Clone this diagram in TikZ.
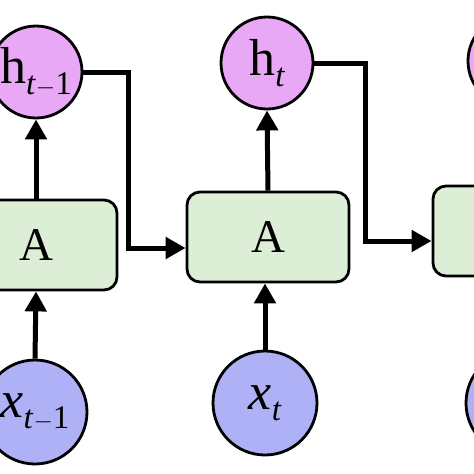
\documentclass[tikz,border=0pt]{standalone}
\usepackage{fontspec}
\setmainfont{Liberation Serif}
\usepackage{xcolor}
\usetikzlibrary{calc, arrows.meta}
\definecolor{hpink}{HTML}{E8A8F6}
\definecolor{xblue}{HTML}{AEB1F6}
\definecolor{agreen}{HTML}{DCEED5}
\newcommand{\subidx}[1]{{\fontsize{33}{33}\selectfont\raisebox{-11pt}{#1}}}
\tikzset{
  rnnnode/.style = {align=center, inner sep=0pt, text centered,
    draw=black, line width=2.8pt},
  rnn_h/.style = {rnnnode, circle, fill=hpink,
    minimum size=92pt, font=\fontsize{52}{52}\selectfont},% etat cache
  rnn_x/.style = {rnnnode, circle, fill=xblue,
    minimum size=104pt, font=\fontsize{52}{52}\selectfont},% entree
  rnn_a/.style = {rnnnode, rectangle, rounded corners=13pt, fill=agreen,
    minimum width=162pt, minimum height=90pt,
    font=\fontsize{47}{47}\selectfont},% cellule A
  conn/.style = {line width=5pt, -{Triangle[length=20pt,width=21pt]}}
}
\begin{document}
\begin{tikzpicture}[x=1pt, y=-1pt]
\useasboundingbox (0,0) rectangle (474,474);

\node[rnn_a] (a1) at (36,245) {A};
\node[rnn_a] (a2) at (268,237) {A};
\node[rnn_a] (a3) at (514,231) {};

\node[rnn_h] (h1) at (36,72) {h\subidx{\itshape t\/$-$\upshape 1}};
\node[rnn_h] (h2) at (267,63) {h\subidx{\itshape t}};
\node[rnn_h] (h3) at (514,61) {};

\node[rnn_x] (x1) at (35,412) {\itshape x\subidx{\itshape t\/$-$\upshape 1}};
\node[rnn_x] (x2) at (265,403) {\itshape x\subidx{\itshape t}};
\node[rnn_x] (x3) at (518,403) {};

\coordinate (k1) at (128,248);
\coordinate (k2) at (365,241);

\draw[conn] (a1.north) -- (h1.south);
\draw[conn] (a2.north) -- (h2.south);
\draw[conn] (x1.north) -- (a1.south);
\draw[conn] (x2.north) -- (x2.north |- a2.south);
\draw[conn] (h1.east) -| (k1) -- (k1 -| a2.west);
\draw[conn] (h2.east) -| (k2) -- (k2 -| a3.west);
\end{tikzpicture}
\end{document}
